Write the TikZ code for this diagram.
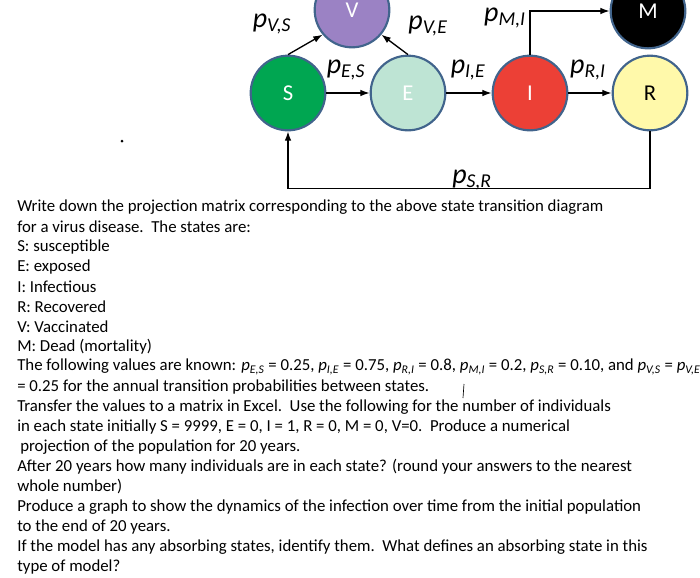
\documentclass[tikz,border=0pt]{standalone}
\usepackage{fontspec}
\setmainfont{Carlito}
\usetikzlibrary{arrows.meta}
\definecolor{cS}{RGB}{0,166,81}\definecolor{cE}{RGB}{190,228,212}
\definecolor{cI}{RGB}{236,64,54}\definecolor{cR}{RGB}{255,249,170}
\definecolor{cV}{RGB}{155,130,196}\definecolor{cB}{RGB}{65,100,140}
\newcommand{\pp}[1]{\textit{p}\textsubscript{\textit{#1}}}
\begin{document}
\begin{tikzpicture}[x=0.75pt,y=-0.75pt,
 st/.style={circle,draw=cB,line width=1.6pt,minimum size=56pt,inner sep=0pt,font=\fontsize{17}{19}\selectfont},
 lab/.style={font=\fontsize{21}{23}\selectfont\itshape},
 ar/.style={-{Latex[length=7pt,width=5pt]},line width=1pt},
 tx/.style={anchor=west,inner sep=0pt,font=\fontsize{12.6}{14}\selectfont}]
\useasboundingbox (0,0) rectangle (700,578);
\node[st,fill=cS,text=white] (S) at (288,93) {S};
\node[st,fill=cE,text=white] (E) at (408,93) {E};
\node[st,fill=cI,text=white] (I) at (530,93) {I};
\node[st,fill=cR] (R) at (650,93) {R};
\node[st,fill=cV,text=white] (V) at (352,10) {V};
\node[st,fill=black,text=white] (M) at (648,11) {M};
\draw[ar] (S) -- (E);
\draw[ar] (E) -- (I);
\draw[ar] (I) -- (R);
\draw[ar] (S.north) -- (V.220);
\draw[ar] (E.north) -- (V.320);
\draw[ar] (I.north) |- (M.west);
\draw[ar] (R.south) -- ++(0,57) -| (S.south);
\node[lab] (l1) at (272,24) {\pp{V,S}};
\node[lab] (l2) at (428,26) {\pp{V,E}};
\node[lab] (l3) at (346,70) {\pp{E,S}};
\node[lab] (l4) at (468,70) {\pp{I,E}};
\node[lab] (l5) at (588,70) {\pp{R,I}};
\node[lab] (l6) at (505,18) {\pp{M,I}};
\node[lab] (l7) at (472,180) {\pp{S,R}};
\fill (122,141) circle (1.5);
\draw[line width=0.5pt] (464,384) -- (463,398);
\node[tx] (t1) at (17,207) {Write down the projection matrix corresponding to the above state transition diagram};
\node[tx] (t2) at (17,227) {for a virus disease.\ \ The states are:};
\node[tx] (t3) at (17,247) {S: susceptible};
\node[tx] (t4) at (17,267) {E: exposed};
\node[tx] (t5) at (17,287) {I: Infectious};
\node[tx] (t6) at (17,307) {R: Recovered};
\node[tx] (t7) at (17,327) {V: Vaccinated};
\node[tx] (t8) at (17,347) {M: Dead (mortality)};
\node[tx] (t9) at (17,367) {The following values are known: \pp{E,S} = 0.25, \pp{I,E} = 0.75, \pp{R,I} = 0.8, \pp{M,I} = 0.2, \pp{S,R} = 0.10, and \pp{V,S} = \pp{V,E}};
\node[tx] (t10) at (17,387) {= 0.25 for the annual transition probabilities between states.};
\node[tx] (t11) at (17,407) {Transfer the values to a matrix in Excel.\ \ Use the following for the number of individuals};
\node[tx] (t12) at (17,427) {in each state initially S = 9999, E = 0, I = 1, R = 0, M = 0, V=0.\ \ Produce a numerical};
\node[tx] (t13) at (20,447) {projection of the population for 20 years.};
\node[tx] (t14) at (17,467) {After 20 years how many individuals are in each state? (round your answers to the nearest};
\node[tx] (t15) at (17,487) {whole number)};
\node[tx] (t16) at (17,507) {Produce a graph to show the dynamics of the infection over time from the initial population};
\node[tx] (t17) at (17,527) {to the end of 20 years.};
\node[tx] (t18) at (17,547) {If the model has any absorbing states, identify them.\ \ What defines an absorbing state in this};
\node[tx] (t19) at (17,567) {type of model?};
\end{tikzpicture}
\end{document}
